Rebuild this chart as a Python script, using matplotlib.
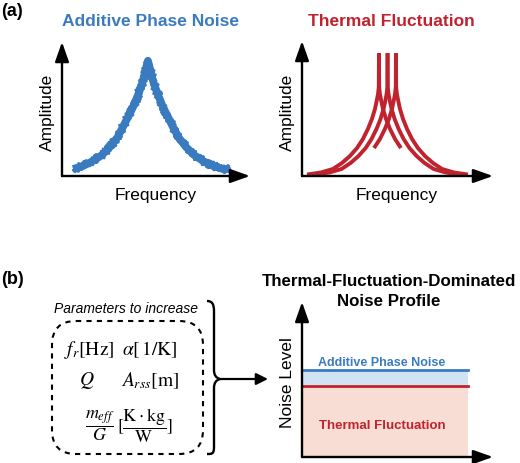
import matplotlib
matplotlib.use("Agg")
import matplotlib.pyplot as plt
import numpy as np
from matplotlib.path import Path
from matplotlib.patches import PathPatch, FancyBboxPatch, FancyArrowPatch

plt.rcParams['font.family'] = ['Liberation Sans', 'DejaVu Sans']
plt.rcParams['mathtext.fontset'] = 'stix'

W, H = 520, 464
BLUE = '#3A7BC0'
RED = '#C0222E'
FILL_BLUE = '#CFE3F4'
FILL_RED = '#F7DDD3'

# ---------------- data ----------------
# (a) left: additive phase noise spectrum (arbitrary units)
apn_freq = [0.59, 1.12, 1.65, 2.13, 2.55, 2.93, 3.24, 3.51, 3.78, 4.04, 4.26, 4.41, 4.57,
            4.73, 4.89, 5.11, 5.37, 5.64, 5.90, 6.22, 6.60, 7.02, 7.50, 8.03, 8.56, 8.94]
apn_amp = [0.52, 0.75, 1.12, 1.57, 2.16, 2.84, 3.66, 4.40, 5.15, 6.04, 6.87, 7.69, 8.60,
           7.69, 6.87, 6.04, 5.15, 4.40, 3.66, 2.84, 2.16, 1.57, 1.12, 0.75, 0.52, 0.52]

# (a) right: thermal fluctuation — three shifted resonance peaks
tf_centers = [4.03, 4.48, 4.92]
tf_offset = [0.0, 0.01, 0.05, 0.10, 0.21, 0.37, 0.58, 0.84, 1.15, 1.52, 1.94, 2.41, 3.04, 3.77]
tf_amp = [9.11, 6.59, 6.07, 5.70, 4.96, 4.22, 3.48, 2.74, 2.07, 1.48, 0.96, 0.52, 0.26, 0.11]
tf_short_n = 9   # truncated inner branches

# (b) noise profile levels
profile_x = [0.0, 8.69]
apn_level = 5.61
tf_level = 4.58

# ---------------- figure ----------------
fig = plt.figure(figsize=(W / 100, H / 100), dpi=100)

def px_axes(l, r, t, b):
    return fig.add_axes([l / W, 1 - b / H, (r - l) / W, (b - t) / H])

def axis_arrows(ax):
    for xy in [(1, 0), (0, 1)]:
        ax.annotate('', xy=xy, xytext=(0, 0), xycoords='axes fraction',
                    arrowprops=dict(arrowstyle='-|>,head_length=0.85,head_width=0.3',
                                    mutation_scale=14, lw=1.7, color='black',
                                    shrinkA=0, shrinkB=0))
    ax.set_xlim(0, 10)
    ax.set_ylim(0, 10)
    ax.axis('off')

# overlay axes in pixel coordinates for annotations
ov = fig.add_axes([0, 0, 1, 1])
ov.set_xlim(0, W)
ov.set_ylim(H, 0)
ov.axis('off')

# panel (a) left
ax1 = px_axes(62, 250, 43, 177)
axis_arrows(ax1)
ax1.plot(apn_freq, apn_amp, color=BLUE, lw=5.6, solid_capstyle='butt', solid_joinstyle='round')
for sc, lw in [(4.0, 1.8), (3.2, 2.2), (2.6, 2.6)]:
    ln, = ax1.plot(apn_freq, apn_amp, color=BLUE, lw=lw, solid_capstyle='butt')
    ln.set_sketch_params(scale=sc, length=1.5, randomness=4)

# panel (a) right
ax2 = px_axes(302, 493, 42, 177)
axis_arrows(ax2)
off = np.array(tf_offset)
amp = np.array(tf_amp)
for i, c in enumerate(tf_centers):
    nl = tf_short_n if i == 2 else len(off)
    nr = tf_short_n if i == 0 else len(off)
    ax2.plot(c - off[:nl], amp[:nl], color=RED, lw=2.8, solid_capstyle='butt')
    ax2.plot(c + off[:nr], amp[:nr], color=RED, lw=2.8, solid_capstyle='butt')

# panel (b) right
ax3 = px_axes(302, 493, 303, 458)
axis_arrows(ax3)
ax3.fill_between(profile_x, 0, tf_level, color=FILL_RED, lw=0)
ax3.fill_between(profile_x, tf_level, apn_level, color=FILL_BLUE, lw=0)
ax3.plot(profile_x, [apn_level] * 2, color=BLUE, lw=2.0)
ax3.plot(profile_x, [tf_level] * 2, color=RED, lw=2.0)
ax3.text(np.mean(profile_x) - 0.15, apn_level + 0.55, 'Additive Phase Noise', color=BLUE,
         fontsize=9, fontweight='bold', ha='center', va='center')
ax3.text(np.mean(profile_x) - 0.15, tf_level / 2 - 0.2, 'Thermal Fluctuation', color=RED,
         fontsize=9.5, fontweight='bold', ha='center', va='center')

# texts
def t(x, y, s, **kw):
    ov.text(x, y, s, ha=kw.pop('ha', 'center'), va=kw.pop('va', 'center'), **kw)

t(1, 11, '(a)', fontsize=13, fontweight='bold', ha='left')
t(1, 280, '(b)', fontsize=13, fontweight='bold', ha='left')
t(150, 22, 'Additive Phase Noise', color=BLUE, fontsize=12.5, fontweight='bold')
t(391, 22, 'Thermal Fluctuation', color=RED, fontsize=12.5, fontweight='bold')
t(156, 196, 'Frequency', fontsize=12.5)
t(397, 196, 'Frequency', fontsize=12.5)
t(47, 112, 'Amplitude', fontsize=12.5, rotation=90)
t(287, 112, 'Amplitude', fontsize=12.5, rotation=90)
t(287, 383, 'Noise Level', fontsize=12.5, rotation=90)
t(389, 282, 'Thermal-Fluctuation-Dominated', fontsize=12.2, fontweight='bold')
t(389, 302, 'Noise Profile', fontsize=12.2, fontweight='bold')

t(126, 309, 'Parameters to increase', fontsize=10, style='italic')
t(89, 350, r'$f_r[\mathrm{Hz}]$', fontsize=14)
t(150, 350, r'$\alpha[\,1/\mathrm{K}]$', fontsize=14)
t(87, 381, r'$Q$', fontsize=14)
t(150, 381, r'$A_{rss}[\mathrm{m}]$', fontsize=14)
t(100, 426, r'$\dfrac{m_{eff}}{G}$', fontsize=13)
t(145, 426, r'$[\dfrac{\mathrm{K\cdot kg}}{\mathrm{W}}]$', fontsize=13)

# dashed rounded box
box = FancyBboxPatch((52, 322), 151, 133, boxstyle='round,pad=0,rounding_size=24',
                     fill=False, lw=1.5, ls=(0, (2.5, 2.5)), ec='black')
ov.add_patch(box)

# curly brace
verts = [(207, 302), (212, 302), (214, 305), (214, 312),
         (214, 371),
         (214, 376), (216, 379), (220, 380),
         (216, 381), (214, 384), (214, 389),
         (214, 448),
         (214, 455), (212, 455), (207, 455)]
codes = [Path.MOVETO, Path.CURVE4, Path.CURVE4, Path.CURVE4,
         Path.LINETO,
         Path.CURVE4, Path.CURVE4, Path.CURVE4,
         Path.CURVE4, Path.CURVE4, Path.CURVE4,
         Path.LINETO,
         Path.CURVE4, Path.CURVE4, Path.CURVE4]
ov.add_patch(PathPatch(Path(verts, codes), fill=False, lw=1.7, ec='black'))
ov.add_patch(FancyArrowPatch((219, 380), (268, 380), arrowstyle='-|>,head_length=0.7,head_width=0.35',
                             mutation_scale=10, lw=1.6, color='black', shrinkA=0, shrinkB=0))

fig.savefig('out.png', dpi=100)
